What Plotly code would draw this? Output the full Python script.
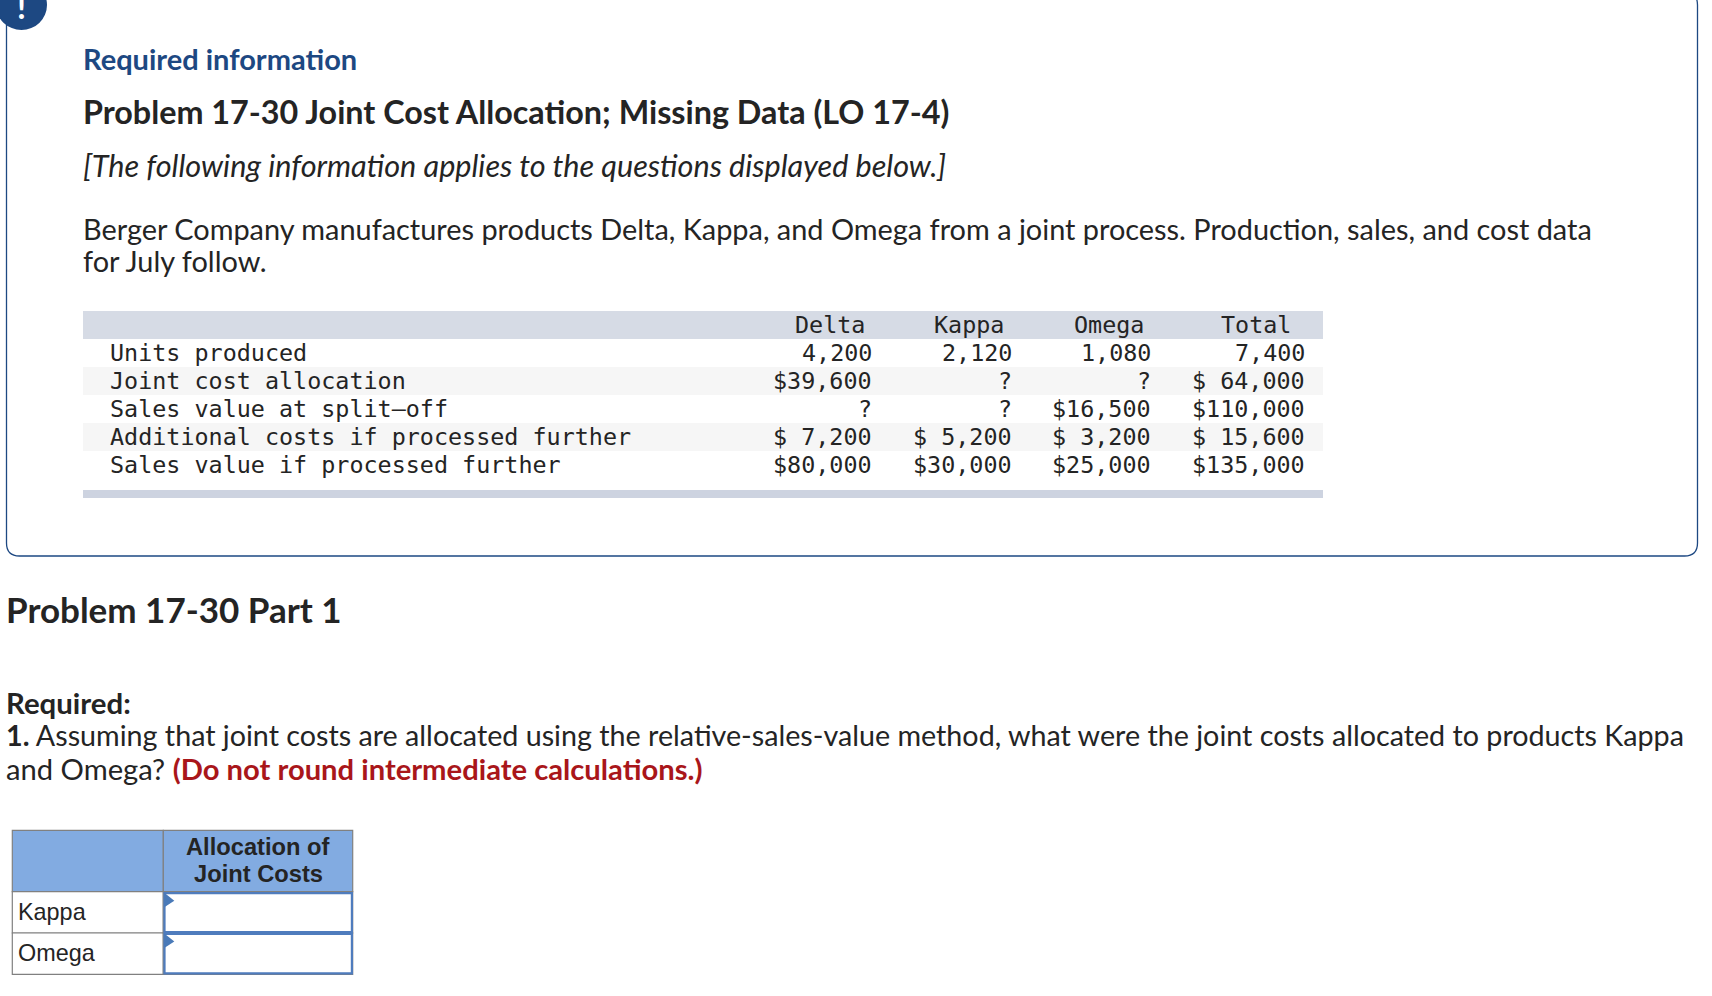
import plotly.graph_objects as go

W, H = 1712, 996
SANS = "Lato, Arial, sans-serif"
MONO = "'DejaVu Sans Mono', monospace"
HELV = "Liberation Sans, Arial, sans-serif"
INK = "#242424"
NAVY = "#1d4882"

# ---- data -------------------------------------------------------------
row_labels = ["Units produced", "Joint cost allocation", "Sales value at split\u2013off",
              "Additional costs if processed further", "Sales value if processed further"]
col_names = ["Delta", "Kappa", "Omega", "Total"]
delta_vals = ["4,200", "$39,600", "?", "$ 7,200", "$80,000"]
kappa_vals = ["2,120", "?", "?", "$ 5,200", "$30,000"]
omega_vals = ["1,080", "?", "$16,500", "$ 3,200", "$25,000"]
total_vals = ["7,400", "$ 64,000", "$110,000", "$ 15,600", "$135,000"]
answer_rows = ["Kappa", "Omega"]

# ---- layout constants ---------------------------------------------------
HEAD_TOP, ROW_H, TBL_L, TBL_R = 311, 28, 83, 1323
COL_RIGHT = [872.9, 1012.6, 1151.9, 1306.3]
HEAD_RIGHT = [865.6, 1005.3, 1145, 1292]
shapes, annots = [], []

def rect(x0, y0, x1, y1, fill, line=None, lw=0):
    shapes.append(dict(type="rect", x0=x0, y0=y0, x1=x1, y1=y1, fillcolor=fill,
                       line=dict(color=line or fill, width=lw), layer="below"))

def text(x, y, s, size, color=INK, font=SANS, anchor="left"):
    annots.append(dict(x=x, y=y, text=s, showarrow=False, xanchor=anchor, yanchor="middle",
                       align=anchor, borderpad=0,
                       font=dict(family=font, size=size, color=color)))

# card outline (its top edge lies just above the picture)
r, cl, cr, ct, cb = 13, 6.5, 1697.5, -8, 556
shapes.append(dict(type="path", layer="below",
    path=(f"M {cl} {ct+r} L {cl} {cb-r} Q {cl} {cb} {cl+r} {cb} L {cr-r} {cb} Q {cr} {cb} {cr} {cb-r} "
          f"L {cr} {ct+r} Q {cr} {ct} {cr-r} {ct} L {cl+r} {ct} Q {cl} {ct} {cl} {ct+r} Z"),
    line=dict(color=NAVY, width=1.3)))
# alert badge
shapes.append(dict(type="circle", x0=-4, y0=-20, x1=47, y1=30, fillcolor=NAVY, line=dict(width=0)))
text(21.5, 6, "<b>!</b>", 32, "white", anchor="center")

text(82, 58.5, "<b>Required information</b>", 29, NAVY)
text(82, 111.5, "<b>Problem 17-30 Joint Cost Allocation; Missing Data (LO 17-4)</b>", 32.3)
text(82, 165, "<i>[The following information applies to the questions displayed below.]</i>", 30.6)
text(82, 228, "Berger Company manufactures products Delta, Kappa, and Omega from a joint process. Production, sales, and cost data", 28.9)
text(82, 260, "for July follow.", 28.9)

# data table
rect(TBL_L, HEAD_TOP, TBL_R, HEAD_TOP + ROW_H, "#d6dbe5")
for i in (1, 3):
    y0 = HEAD_TOP + ROW_H * (i + 1)
    rect(TBL_L, y0, TBL_R, y0 + ROW_H, "#f6f6f6")
rect(TBL_L, 490, TBL_R, 498, "#cdd3e0")

MS = 23.4
for name, x in zip(col_names, HEAD_RIGHT):
    text(x, HEAD_TOP + ROW_H / 2, name, MS, font=MONO, anchor="right")
for i, label in enumerate(row_labels):
    yc = HEAD_TOP + ROW_H * (i + 1.5)
    text(108.5, yc, label, MS, font=MONO)
    for vals, x in zip((delta_vals, kappa_vals, omega_vals, total_vals), COL_RIGHT):
        text(x, yc, vals[i], MS, font=MONO, anchor="right")

text(5, 609, "<b>Problem 17-30 Part 1</b>", 35)
text(5, 702, "<b>Required:</b>", 29.4)
text(5, 735, "<b>1.</b> Assuming that joint costs are allocated using the relative-sales-value method, what were the joint costs allocated to products Kappa", 28.7)
text(5, 768, "and Omega? <b><span style='color:#a9161a;font-size:29.2px'>(Do not round intermediate calculations.)</span></b>", 29.2)

# answer table
L, M, R_, T, A, B, C = 12.3, 163.3, 352.7, 830.3, 891.7, 933, 974.3
GREY = "#808080"
rect(L, T, M, A, "#82abe1", GREY, 1.2)
rect(M, T, R_, A, "#82abe1", GREY, 1.2)
rect(L, A, M, B, "white", GREY, 1.2)
rect(L, B, M, C, "white", GREY, 1.2)
rect(M, A, R_, B, "white", GREY, 1.2)
rect(M, B, R_, C, "white", GREY, 1.2)
for y0, y1 in ((A + 1.5, B - 1), (B + 1, C - 1)):
    rect(M + 1.2, y0, R_ - 0.8, y1, "white", "#4f7cbd", 2.2)
    shapes.append(dict(type="path", layer="above", path=f"M {M+1} {y0-0.5} L {M+11} {y0+7.5} L {M+1} {y0+14} Z",
                       fillcolor="#4a7ab8", line=dict(width=0)))
text((M + R_) / 2, 847, "<b>Allocation of</b>", 23.7, font=HELV, anchor="center")
text((M + R_) / 2, 874, "<b>Joint Costs</b>", 23.7, font=HELV, anchor="center")
for name, y in zip(answer_rows, ((A + B) / 2 - 0.5, (B + C) / 2 - 0.5)):
    text(17, y, name, 23.4, font=HELV)

fig = go.Figure()
fig.update_layout(width=W, height=H, margin=dict(l=0, r=0, t=0, b=0), autosize=False,
                  paper_bgcolor="white", plot_bgcolor="white", showlegend=False,
                  xaxis=dict(range=[0, W], visible=False, fixedrange=True),
                  yaxis=dict(range=[H, 0], visible=False, fixedrange=True),
                  shapes=shapes, annotations=annots)
fig.write_html("out.html", config=dict(displayModeBar=False),
               post_script="document.body.style.margin='0';document.body.style.overflow='hidden';")
